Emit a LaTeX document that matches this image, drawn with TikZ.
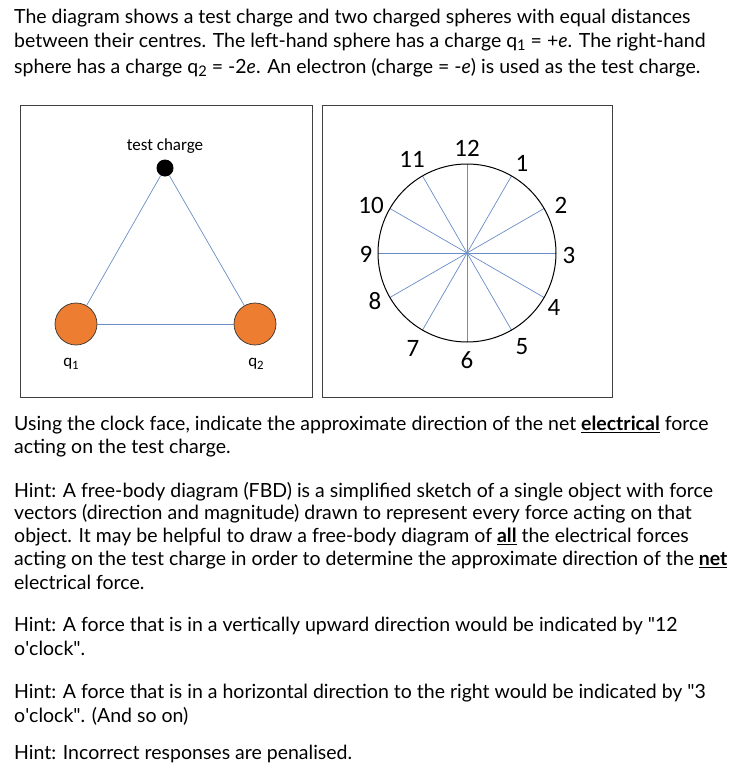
\documentclass[tikz,border=0pt]{standalone}
\usepackage{fontspec}
\usetikzlibrary{calc}
\setmainfont{Lato}
\newfontfamily\clockfont{Carlito}
\definecolor{sph}{HTML}{ED7D31}
\definecolor{ln}{HTML}{6A8CC8}
\newcommand{\qs}[1]{q\raisebox{-0.3ex}{\scalebox{0.75}{#1}}}
\begin{document}
\begin{tikzpicture}[x=1pt,y=-1pt,
  txt/.style={anchor=west,inner sep=0pt,font=\fontsize{19.5}{22}\selectfont},
  num/.style={inner sep=0pt,font=\clockfont\fontsize{25}{27}\selectfont},
  spoke/.style={draw=ln,line width=0.7pt},
  sphere/.style={circle,draw=black!80,fill=sph,minimum size=42pt,inner sep=0pt,line width=0.7pt},
  lbl/.style={inner sep=0pt,font=\clockfont\fontsize{17}{19}\selectfont}]
\useasboundingbox (0,0) rectangle (731,774);
\node[txt] (l1) at (14,18) {The diagram shows a test charge and two charged spheres with equal distances};
\node[txt] (l2) at (14,42) {between their centres. The left-hand sphere has a charge \qs{1} = +\textit{e}. The right-hand};
\node[txt] (l3) at (14,68) {sphere has a charge \qs{2} = -2\textit{e}. An electron (charge = -\textit{e}) is used as the test charge.};
% left box
\draw[black!75,line width=0.8pt] (20,105) rectangle (312,397);
\node[circle,fill=black,minimum size=17pt,inner sep=0pt] (t) at (165,168) {};
\node[sphere] (q1) at (76,324) {};
\node[sphere] (q2) at (255,324) {};
\draw[spoke] (t) -- (q1); \draw[spoke] (t) -- (q2); \draw[spoke] (q1) -- (q2);
\node[lbl] (tl) at (165,146) {test charge};
\node[lbl] (q1l) at (71,364) {\qs{1}};
\node[lbl] (q2l) at (256,364) {\qs{2}};
% right box
\draw[black!75,line width=0.8pt] (322,105) rectangle (612,397);
\coordinate (c) at (467,253);
\foreach \i in {0,...,11}{\coordinate (p\i) at ($(c)+(\i*30:89)$);\draw[spoke] (c) -- (p\i);}
\draw[line width=1pt] (c) circle (89);
\node[num] (n12) at (467,148) {12};
\node[num] (n1) at (522,163) {1};
\node[num] (n2) at (561,205) {2};
\node[num] (n3) at (569,255) {3};
\node[num] (n4) at (554,307) {4};
\node[num] (n5) at (522,347) {5};
\node[num] (n6) at (467,360) {6};
\node[num] (n7) at (413,348) {7};
\node[num] (n8) at (375,301) {8};
\node[num] (n9) at (366,254) {9};
\node[num] (n10) at (371,205) {10};
\node[num] (n11) at (412,159) {11};
% lower text
\node[txt] (a1) at (14,425) {Using the clock face, indicate the approximate direction of the net \textbf{\underline{electrical}} force};
\node[txt] (a2) at (14,448) {acting on the test charge.};
\node[txt] (b1) at (14,492) {Hint: A free-body diagram (FBD) is a simplified sketch of a single object with force};
\node[txt] (b2) at (14,514) {vectors (direction and magnitude) drawn to represent every force acting on that};
\node[txt] (b3) at (14,537) {object. It may be helpful to draw a free-body diagram of \textbf{\underline{all}} the electrical forces};
\node[txt] (b4) at (14,560) {acting on the test charge in order to determine the approximate direction of the \textbf{\underline{net}}};
\node[txt] (b5) at (14,582) {electrical force.};
\node[txt] (c1) at (14,626) {Hint: A force that is in a vertically upward direction would be indicated by \textquotedbl 12};
\node[txt] (c2) at (14,648) {o\textquotesingle clock\textquotedbl.};
\node[txt] (d1) at (14,693) {Hint: A force that is in a horizontal direction to the right would be indicated by \textquotedbl 3};
\node[txt] (d2) at (14,716) {o\textquotesingle clock\textquotedbl. (And so on)};
\node[txt] (e1) at (14,754) {Hint: Incorrect responses are penalised.};
\end{tikzpicture}
\end{document}
